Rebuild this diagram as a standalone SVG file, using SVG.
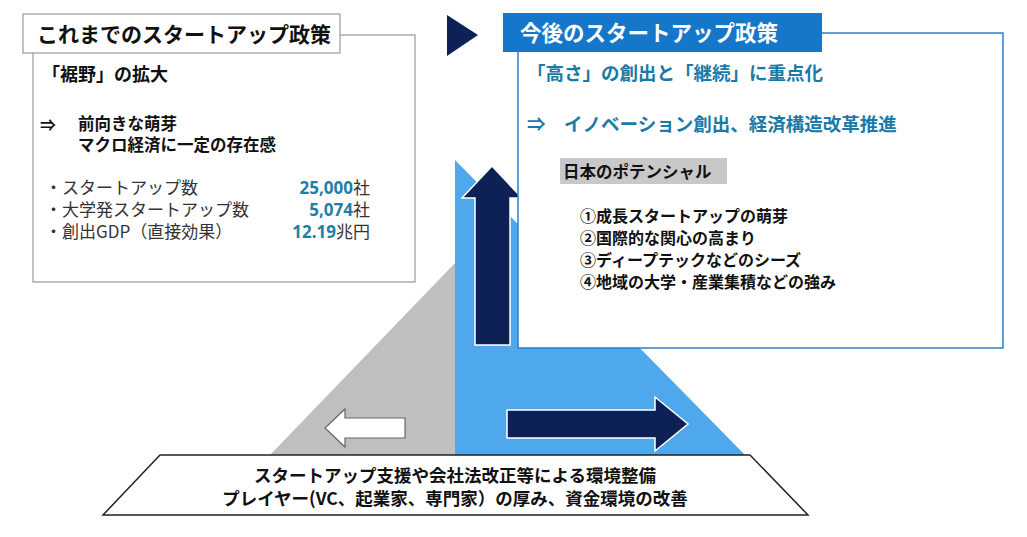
<svg xmlns="http://www.w3.org/2000/svg" width="1027" height="537" viewBox="0 0 1027 537">
<style>
text{font-family:"Noto Sans CJK JP","Noto Sans",sans-serif;font-weight:bold;fill:#111}
.n{font-weight:normal;fill:#333}
.v{fill:#1f7fa8;font-family:"Noto Sans","Noto Sans CJK JP",sans-serif;font-weight:bold}
.t{fill:#1a7aa8}
.navy{fill:#0d2157;stroke:#fff;stroke-width:1.5}
</style>
<rect width="1027" height="537" fill="#fff"/>
<g id="triangles">
<polygon points="270,455 455,263 455,455" fill="#bfbfbf"/>
<polygon points="455,160 745,455 455,455" fill="#4fa8ec"/>
</g>
<g id="connectors">
<polygon class="navy" points="475,345 510,345 510,198 522,198 492,166 462,198 475,198"/>
<polygon class="navy" points="507,410 655,410 655,397 688,424 655,451 655,438 507,438"/>
<polygon points="405,418 405,438 345,438 345,447 325,428 345,409 345,418" fill="#fff" stroke="#666" stroke-width="1.2"/>
<polygon points="447,15 478,35 447,56" fill="#0d2157"/>
</g>
<g id="left-box">
<rect x="33" y="35" width="382" height="247" fill="#fff" stroke="#999" stroke-width="1.2"/>
<rect x="23" y="14" width="317" height="39" fill="#fff" stroke="#999" stroke-width="1.2"/>
<text x="37" y="42" font-size="21">これまでのスタートアップ政策</text>
<text x="42" y="81" font-size="18">「裾野」の拡大</text>
<text x="40" y="131" font-size="16">⇒</text>
<text x="78" y="130" font-size="16.5">前向きな萌芽</text>
<text x="78" y="151" font-size="16.5">マクロ経済に一定の存在感</text>
<text class="n" x="45" y="194" font-size="17">・スタートアップ数</text>
<text class="n" x="45" y="216" font-size="17">・大学発スタートアップ数</text>
<text class="n" x="45" y="238" font-size="17">・創出GDP（直接効果）</text>
<text x="370" y="194" font-size="17" text-anchor="end"><tspan class="v">25,000</tspan><tspan class="n">社</tspan></text>
<text x="370" y="216" font-size="17" text-anchor="end"><tspan class="v">5,074</tspan><tspan class="n">社</tspan></text>
<text x="370" y="238" font-size="17" text-anchor="end"><tspan class="v">12.19</tspan><tspan class="n">兆円</tspan></text>
</g>
<g id="right-box">
<rect x="518" y="33" width="485" height="315" fill="#fff" stroke="#2b7fc9" stroke-width="1.5"/>
<rect x="503" y="13" width="319" height="39" fill="#1577c9"/>
<text x="520" y="41" font-size="21.5" style="fill:#fff">今後のスタートアップ政策</text>
<text class="t" x="527" y="80" font-size="18.5">「高さ」の創出と「継続」に重点化</text>
<text class="t" x="527" y="131" font-size="18.5">⇒　イノベーション創出、経済構造改革推進</text>
<rect x="560" y="158" width="167" height="26" fill="#c8c8c8"/>
<text x="563" y="178" font-size="16.5">日本のポテンシャル</text>
<text x="580" y="222" font-size="16">①成長スタートアップの萌芽</text>
<text x="580" y="244" font-size="16">②国際的な関心の高まり</text>
<text x="580" y="266" font-size="16">③ディープテックなどのシーズ</text>
<text x="580" y="288" font-size="16">④地域の大学・産業集積などの強み</text>
</g>
<g id="base">
<polygon points="103,515 160,455 750,455 808,515" fill="#fff" stroke="#222" stroke-width="1.5"/>
<text x="455" y="482" font-size="17.5" text-anchor="middle">スタートアップ支援や会社法改正等による環境整備</text>
<text x="455" y="505" font-size="17.5" text-anchor="middle">プレイヤー(VC、起業家、専門家）の厚み、資金環境の改善</text>
</g>
</svg>
